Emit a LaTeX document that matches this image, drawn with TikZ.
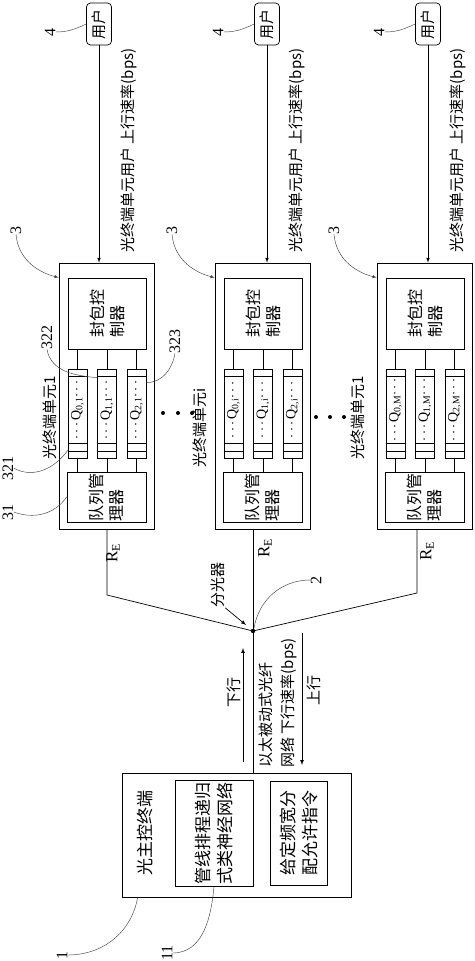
\documentclass[tikz,border=0pt]{standalone}
\usepackage{fontspec}
\setmainfont{Liberation Serif}
\newfontfamily\cjk{Noto Sans CJK SC}

\begin{document}
\begin{tikzpicture}[
    x=1pt,y=-1pt,
    >=latex,
    line width=0.7pt,
    cjktext/.style={rotate=90,inner sep=0pt,font=\cjk\fontsize{15}{19}\selectfont},
    numtext/.style={rotate=90,inner sep=0pt,font=\fontsize{16}{18}\selectfont},
    textbox/.style={draw,rotate=90,align=left,inner sep=0pt,font=\cjk\fontsize{16}{20}\selectfont},
    userbox/.style={draw,rotate=90,rounded corners=4pt,minimum width=42,minimum height=25,inner sep=0pt,font=\cjk\fontsize{15}{18}\selectfont},
    queuebox/.style={draw,minimum width=19,minimum height=89,inner sep=0pt},
    qtext/.style={rotate=90,inner sep=0pt,font=\fontsize{14}{16}\selectfont},
    leader/.style={line width=0.45pt,black!75},
]
    \useasboundingbox (0,0) rectangle (474,961);
    \foreach \u/\ox/\ux/\sb in {1/0/99/1,2/156/267/i,3/318/428/M}
    {
      \node[userbox] (user\u) at (\ux,24) {用户};
      \node[draw,minimum width=95,minimum height=266,inner sep=0pt] (unit\u) at (106.5+\ox,396) {};
      \draw[->] (user\u.west) -- (user\u.west |- unit\u.north);
      \node[cjktext,anchor=west] (rate\u) at (\ux+30,253) {光终端单元用户 上行速率(bps)};
      \node[numtext] (four\u) at (\ux-49,32) {4};
      \draw[leader] (four\u.south) to[out=0,in=205] (user\u.north);
      \node[numtext] (three\u) at (16+\ox,230) {3};
      \draw[leader,->] (three\u.west) to[out=-85,in=165] ([yshift=-15]unit\u.north west);
      \node[textbox,minimum width=71,minimum height=78] (ctrl\u) at (107+\ox,313.5) {封包控\\制器};
      \node[textbox,minimum width=50,minimum height=79] (mgr\u) at (106.5+\ox,497) {队列管\\理器};
      \foreach \q in {0,1,2}
      {
        \node[queuebox] (q\u\q) at (77.5+29.5*\q+\ox,413.5) {};
        \draw ([yshift=-8]q\u\q.north west) -- ([yshift=-8]q\u\q.north east);
        \draw ([yshift=15]q\u\q.south west) -- ([yshift=15]q\u\q.south east);
        \draw ([yshift=7]q\u\q.south west) -- ([yshift=7]q\u\q.south east);
        \node[qtext] (ql\u\q) at ([yshift=3.5]q\u\q.center) {$\cdots$\,Q\textsubscript{\q,\sb}$\cdots$};
        \draw (q\u\q.north) -- (q\u\q.north |- ctrl\u.west);
        \draw (q\u\q.south) -- (q\u\q.south |- mgr\u.east);
      }
    }
    \node[cjktext] (name1) at (50,418) {光终端单元1};
    \node[cjktext] (name2) at (200,428) {光终端单元i};
    \node[cjktext] (name3) at (358,418) {光终端单元1};
    \foreach \dx in {163,178,192} \fill (\dx,413) circle (2pt);
    \foreach \dx in {316,330,344} \fill (\dx,417) circle (2pt);

    \node[numtext] (n322) at (47,337) {322};
    \draw[leader] (n322.west) to[out=-80,in=175] ([yshift=-9]q11.north west);
    \node[numtext] (n323) at (175,341) {323};
    \draw[leader] (n323.west) to[out=-100,in=0] ([yshift=-14]q12.north east);
    \node[numtext] (n321) at (8,468) {321};
    \draw[leader] (n321.south) to[out=-30,in=235] ([yshift=8]q10.south west);
    \node[numtext] (n31) at (8,512) {31};
    \draw[leader] (n31.south) to[out=-20,in=235] (mgr1.north);

    \coordinate (split) at (253,631);
    \coordinate (bend1) at (107,595);
    \coordinate (bend3) at (417,593);
    \draw (unit1.south -| bend1) -- (bend1) -- (split);
    \draw (unit2.south -| split) -- (split);
    \draw (unit3.south -| bend3) -- (bend3) -- (split);
    \fill (split) circle (2.2pt);
    \node[numtext,font=\fontsize{17}{19}\selectfont] (re1) at (113,553) {R\textsubscript{E}};
    \node[numtext,font=\fontsize{17}{19}\selectfont] (re2) at (265,548) {R\textsubscript{E}};
    \node[numtext,font=\fontsize{17}{19}\selectfont] (re3) at (427,551) {R\textsubscript{E}};
    \node[cjktext] (splitter) at (218,585) {分光器};
    \draw[->] (splitter.south west) -- ([xshift=-7pt,yshift=6pt]split);
    \node[numtext] (n2) at (316,580) {2};
    \draw[leader] (n2.north) to[out=180,in=80] ([xshift=1pt,yshift=3pt]split);

    \node[draw,minimum width=229,minimum height=124,inner sep=0pt] (olt) at (236.5,835) {};
    \node[cjktext,font=\cjk\fontsize{17}{20}\selectfont] (oltname) at (145,833) {光主控终端};
    \node[textbox,minimum width=106,minimum height=78,font=\cjk\fontsize{17}{22}\selectfont] (nn) at (214,833) {管线排程递归\\式类神经网络};
    \node[textbox,minimum width=104,minimum height=57,font=\cjk\fontsize{17}{22}\selectfont] (grant) at (298.5,833) {给定频宽分\\配允许指令};
    \draw (split) -- (split |- olt.north);

    \coordinate (dn1) at (243,762);
    \coordinate (dn2) at (243,648);
    \draw[->] (dn1) -- (dn2);
    \node[cjktext] (down) at (234,692) {下行};
    \coordinate (up1) at (302,633);
    \coordinate (up2) at (302,765);
    \draw[->] (up1) -- (up2);
    \node[cjktext] (upward) at (314,690) {上行};
    \node[cjktext,align=left,anchor=west,font=\cjk\fontsize{15}{22}\selectfont] (fiber) at (278,768) {以太被动式光纤\\网络 下行速率(bps)};

    \node[numtext] (n1) at (62,955) {1};
    \draw[leader] (n1.south) to[out=0,in=-100] ([xshift=16]olt.south west);
    \node[numtext] (n11) at (167,953) {11};
    \draw[leader] (n11.south) to[out=0,in=-95] (nn.west);
\end{tikzpicture}
\end{document}
